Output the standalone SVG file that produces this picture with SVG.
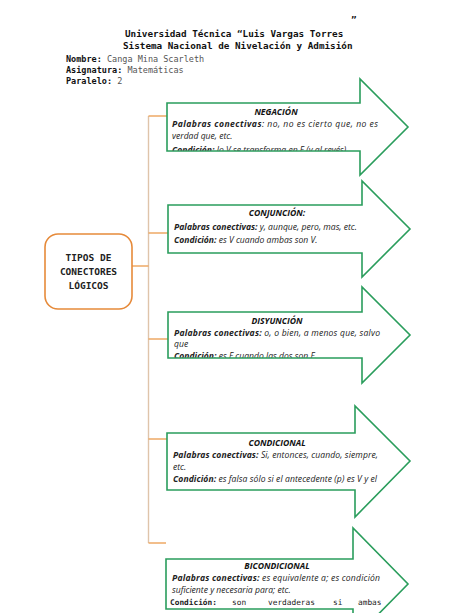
<svg xmlns="http://www.w3.org/2000/svg" width="474" height="613" viewBox="0 0 474 613">
<style>
.hdr{font-family:"DejaVu Sans Mono","Liberation Mono",monospace;font-weight:bold;font-size:9.3px;fill:#111}
.meta{font-family:"DejaVu Sans Mono","Liberation Mono",monospace;font-size:8.5px;fill:#555}
.meta .b{font-weight:bold;fill:#111}
.arrow{fill:#fff;stroke:#2a9d5c;stroke-width:1.6}
.t{font-family:"Open Sans","Noto Sans",sans-serif;font-style:italic;font-size:8.6px;fill:#222}
.b{font-weight:bold}
.ttl{font-family:"Open Sans","Noto Sans",sans-serif;font-style:italic;font-weight:bold;font-size:8.6px;fill:#111;text-anchor:middle}
.mono{font-family:"DejaVu Sans Mono","Liberation Mono",monospace;font-size:7.8px;fill:#222}
.vline{stroke:#dfc4aa;stroke-width:1.4;fill:none}
.tick{stroke:#eca35a;stroke-width:1.4;fill:none}
.box{fill:#fff;stroke:#e68a3a;stroke-width:1.6}
.boxt{font-family:"DejaVu Sans Mono","Liberation Mono",monospace;font-weight:bold;font-size:9.5px;fill:#222;text-anchor:middle}
</style>
<defs>
<clipPath id="c1"><rect x="160" y="103" width="230" height="47.5"/></clipPath>
<clipPath id="c2"><rect x="160" y="205" width="230" height="47.5"/></clipPath>
<clipPath id="c3"><rect x="160" y="312" width="230" height="45.5"/></clipPath>
<clipPath id="c4"><rect x="160" y="433" width="230" height="56.5"/></clipPath>
<clipPath id="c5"><rect x="160" y="559" width="230" height="50"/></clipPath>
</defs>
<rect width="474" height="613" fill="#fff"/>

<g id="header">
<text class="hdr" x="351" y="23">”</text>
<text class="hdr" x="125" y="37">Universidad Técnica “Luis Vargas Torres</text>
<text class="hdr" x="123" y="49">Sistema Nacional de Nivelación y Admisión</text>
<text class="meta" x="66" y="62"><tspan class="b">Nombre:</tspan> Canga Mina Scarleth</text>
<text class="meta" x="66" y="73"><tspan class="b">Asignatura:</tspan> Matemáticas</text>
<text class="meta" x="66" y="84"><tspan class="b">Paralelo:</tspan> 2</text>
</g>

<g id="connectors">
<line class="vline" x1="148.5" y1="116" x2="148.5" y2="543"/>
<line class="tick" x1="148.5" y1="116" x2="167" y2="116"/>
<line class="tick" x1="148.5" y1="233" x2="168" y2="233"/>
<line class="tick" x1="148.5" y1="339" x2="168" y2="339"/>
<line class="tick" x1="148.5" y1="439" x2="167" y2="439"/>
<line class="tick" x1="148.5" y1="543" x2="166" y2="543"/>
<line class="tick" x1="132" y1="266" x2="148.5" y2="266"/>
</g>

<g id="root">
<rect class="box" x="45" y="234" width="87" height="75" rx="13"/>
<text class="boxt" x="88.5" y="261">TIPOS DE</text>
<text class="boxt" x="88.5" y="275">CONECTORES</text>
<text class="boxt" x="88.5" y="289">LÓGICOS</text>
</g>

<g id="negacion">
<polygon class="arrow" points="167,103 360,103 360,79 408,127 360,175 360,151 167,151"/>
<g clip-path="url(#c1)">
<text class="ttl" x="276" y="115">NEGACIÓN</text>
<text class="t" x="172" y="127" textLength="206" lengthAdjust="spacing"><tspan class="b">Palabras conectivas</tspan>: no, no es cierto que, no es</text>
<text class="t" x="172" y="139">verdad que, etc.</text>
<text class="t" x="172" y="153"><tspan class="b">Condición:</tspan> lo V se transforma en F (y al revés)</text>
</g>
</g>

<g id="conjuncion">
<polygon class="arrow" points="168,205 362,205 362,181 410,229 362,277 362,253 168,253"/>
<g clip-path="url(#c2)">
<text class="ttl" x="277" y="216">CONJUNCIÓN:</text>
<text class="t" x="174" y="230"><tspan class="b">Palabras conectivas:</tspan> y, aunque, pero, mas, etc.</text>
<text class="t" x="174" y="243"><tspan class="b">Condición:</tspan> es V cuando ambas son V.</text>
</g>
</g>

<g id="disyuncion">
<polygon class="arrow" points="168,312 362,312 362,287 410,335 362,383 362,358 168,358"/>
<g clip-path="url(#c3)">
<text class="ttl" x="277" y="324">DISYUNCIÓN</text>
<text class="t" x="174" y="336" textLength="206" lengthAdjust="spacing"><tspan class="b">Palabras conectivas:</tspan> o, o bien, a menos que, salvo</text>
<text class="t" x="174" y="347">que</text>
<text class="t" x="174" y="359"><tspan class="b">Condición:</tspan> es F cuando las dos son F.</text>
</g>
</g>

<g id="condicional">
<polygon class="arrow" points="167,433 355,433 355,406 410,461 355,517 355,490 167,490"/>
<g clip-path="url(#c4)">
<text class="ttl" x="277" y="446">CONDICIONAL</text>
<text class="t" x="173" y="458" textLength="205" lengthAdjust="spacing"><tspan class="b">Palabras conectivas:</tspan> Si, entonces, cuando, siempre,</text>
<text class="t" x="173" y="470">etc.</text>
<text class="t" x="173" y="482" textLength="204" lengthAdjust="spacing"><tspan class="b">Condición:</tspan> es falsa sólo si el antecedente (p) es V y el</text>
</g>
</g>

<g id="bicondicional">
<polygon class="arrow" points="166,559 353,559 353,528 408,584 353,640 353,609 166,609"/>
<g clip-path="url(#c5)">
<text class="ttl" x="277" y="569">BICONDICIONAL</text>
<text class="t" x="172" y="581" textLength="208" lengthAdjust="spacing"><tspan class="b">Palabras conectivas:</tspan> es equivalente a; es condición</text>
<text class="t" x="172" y="593">suficiente y necesaria para; etc.</text>
<text class="mono b" x="170" y="605">Condición:</text>
<text class="mono" x="232" y="605">son</text>
<text class="mono" x="268" y="605">verdaderas</text>
<text class="mono" x="333" y="605">si</text>
<text class="mono" x="358" y="605">ambas</text>
</g>
</g>
</svg>
